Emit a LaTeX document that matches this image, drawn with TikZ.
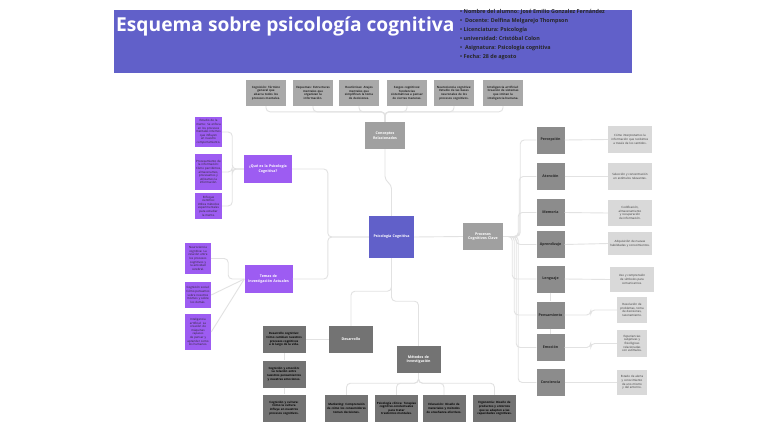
\documentclass[tikz,border=0pt]{standalone}
\usepackage{fontspec}
\setmainfont{Open Sans}
\usetikzlibrary{positioning,calc}
\definecolor{headblue}{HTML}{6160C9}
\definecolor{violeta}{HTML}{9D5CF2}
\definecolor{grisclaro}{HTML}{D9D9D9}
\definecolor{grismedio}{HTML}{A9A9A9}
\definecolor{grisconc}{HTML}{A0A0A0}
\definecolor{grisfuerte}{HTML}{8C8C8C}
\definecolor{grisoscuro}{HTML}{737373}
\definecolor{linea}{HTML}{E2E2E2}
\newcommand{\boxfont}{\fontsize{2.9}{3.6}\selectfont\hyphenpenalty=10000\exhyphenpenalty=10000}
\newcommand{\labfont}{\fontsize{3.6}{4.5}\selectfont\hyphenpenalty=10000\exhyphenpenalty=10000}

\begin{document}
\begin{tikzpicture}[x=1pt, y=-1pt,
  caja/.style={rectangle, inner sep=0.5pt, align=center, font=\boxfont\bfseries},
  topb/.style={caja, fill=grismedio, text=black!85, minimum width=40pt, minimum height=26pt, text width=35pt},
  conc/.style={caja, fill=grisconc, text=white, font=\labfont\bfseries, minimum width=40pt, minimum height=27pt, text width=34pt},
  psib/.style={caja, fill=headblue, text=white, font=\labfont\bfseries, minimum width=45pt, minimum height=42pt, text width=43pt},
  violb/.style={caja, fill=violeta, text=white, font=\labfont\bfseries, minimum width=48pt, minimum height=28pt, text width=42pt},
  viols/.style={caja, fill=violeta, text=black!85, font=\boxfont, minimum width=#1, text width=#1-2pt},
  itemb/.style={caja, fill=grisfuerte, text=black!85, font=\labfont\bfseries, minimum width=27pt, minimum height=27pt, text width=27pt},
  descb/.style={caja, fill=grisclaro, text=black!80, font=\boxfont, minimum width=#1, minimum height=26pt, text width=#1-4pt},
  oscb/.style={caja, fill=grisoscuro, text=black, minimum width=43pt, minimum height=27pt, text width=40pt},
  oscw/.style={caja, fill=grisoscuro, text=white, font=\labfont\bfseries, minimum width=44pt, minimum height=27pt, text width=36pt},
  conn/.style={draw=linea, line width=0.9pt, rounded corners=4pt}
]
\useasboundingbox[fill=white] (0,0) rectangle (768,431);

%% ---- Encabezado ----
\fill[headblue] (114,10) rectangle (632,73);
\node[anchor=west, inner sep=0pt, text=white, font=\fontsize{19.2}{19.2}\bfseries\selectfont] (titulo) at (116,26.5) {Esquema sobre psicología cognitiva};
\node[anchor=north west, inner sep=0pt, align=left, text=black!85, font=\fontsize{5.4}{8.9}\bfseries\selectfont] (datos) at (460,9.5)
  {• Nombre del alumno: José Emilio Gonzalez Fernández\\
   •\ \ Docente: Delfina Melgarejo Thompson\\
   • Licenciatura: Psicología\\
   • universidad: Cristóbal Colon\\
   •\ \ Asignatura: Psicología cognitiva\\
   • Fecha: 28 de agosto};

%% ---- Conceptos relacionados ----
\node[topb] (t1) at (266,93) {Cognición: Término general que abarca todos los procesos mentales.};
\node[topb] (t2) at (313,93) {Esquemas: Estructuras mentales que organizan la información.};
\node[topb] (t3) at (359,93) {Heurísticas: Atajos mentales que simplifican la toma de decisiones.};
\node[topb] (t4) at (407,93) {Sesgos cognitivos: Tendencias sistemáticas a pensar de ciertas maneras.};
\node[topb] (t5) at (454,93) {Neurociencia cognitiva: Estudio de las bases neuronales de los procesos cognitivos.};
\node[topb] (t6) at (503,93) {Inteligencia artificial: Creación de sistemas que imitan la inteligencia humana.};
\node[conc] (concep) at (385,135.5) {Conceptos Relacionados};

%% ---- Centro ----
\node[psib] (psico) at (391.5,237) {Psicología Cognitiva};
\node[conc] (procesos) at (483,236.5) {Procesos Cognitivos Clave};

%% ---- Izquierda ----
\node[violb] (quees) at (268,169) {¿Qué es la Psicología Cognitiva?};
\node[viols=27pt, minimum height=30pt] (q1) at (208.5,132) {Estudio de la mente: Se enfoca en los procesos mentales internos que influyen en nuestro comportamiento.};
\node[viols=27pt, minimum height=36pt] (q2) at (208.5,172) {Procesamiento de la información: Cómo percibimos, almacenamos, procesamos y utilizamos la información.};
\node[viols=27pt, minimum height=26pt] (q3) at (208.5,206) {Enfoque científico: Utiliza métodos experimentales para estudiar la mente.};

\node[violb] (temas) at (268.5,279) {Temas de Investigación Actuales};
\node[viols=26pt, minimum height=31pt] (m1) at (198,258.5) {Neurociencia cognitiva: La relación entre los procesos cognitivos y la actividad cerebral.};
\node[viols=26pt, minimum height=26pt] (m2) at (198,295) {Cognición social: Cómo pensamos sobre nosotros mismos y sobre los demás.};
\node[viols=26pt, minimum height=36pt] (m3) at (198,332) {Inteligencia artificial: La creación de máquinas capaces de pensar y aprender como los humanos.};

%% ---- Derecha ----
\node[itemb] (perc) at (550.5,140) {Percepción};
\node[itemb] (aten) at (550.5,176.5) {Atención};
\node[itemb] (memo) at (550.5,212.5) {Memoria};
\node[itemb] (apre) at (550.5,244.5) {Aprendizaje};
\node[itemb] (leng) at (550.5,279) {Lenguaje};
\node[itemb] (pens) at (550.5,315) {Pensamiento};
\node[itemb] (emoc) at (550.5,347.5) {Emoción};
\node[itemb] (conci) at (550.5,382.5) {Conciencia};

\node[descb=44pt, minimum height=27pt] (percd) at (630,139.5) {Cómo interpretamos la información que recibimos a través de los sentidos.};
\node[descb=44pt, minimum height=27pt] (atend) at (630,176.5) {Selección y concentración en estímulos relevantes.};
\node[descb=44pt] (memod) at (630,213) {Codificación, almacenamiento y recuperación de información.};
\node[descb=44pt, minimum height=23pt] (apred) at (630,243.5) {Adquisición de nuevas habilidades y conocimientos.};
\node[descb=44pt, minimum height=25pt] (lengd) at (632,279.5) {Uso y comprensión de símbolos para comunicarnos.};
\node[descb=30pt] (pensd) at (632,310) {Resolución de problemas, toma de decisiones, razonamiento.};
\node[descb=30pt, minimum height=27pt] (emocd) at (632,343.5) {Experiencias subjetivas y fisiológicas relacionadas con estímulos.};
\node[descb=30pt, minimum height=25pt] (concid) at (632,382.5) {Estado de alerta y conocimiento de uno mismo y del entorno.};

%% ---- Abajo ----
\node[oscw] (desar) at (351,339.5) {Desarrollo};
\node[oscb] (d1) at (284,339.5) {Desarrollo cognitivo: Cómo cambian nuestros procesos cognitivos a lo largo de la vida.};
\node[oscb] (d2) at (284,374) {Cognición y emoción: La relación entre nuestros pensamientos y nuestras emociones.};
\node[oscb] (d3) at (284,408) {Cognición y cultura: Cómo la cultura influye en nuestros procesos cognitivos.};

\node[oscw] (metodos) at (418.5,359.5) {Métodos de Investigación};
\node[oscb] (b1) at (346.5,408.5) {Marketing: Comprensión de cómo los consumidores toman decisiones.};
\node[oscb] (b2) at (396.5,408.5) {Psicología clínica: Terapias cognitivo-conductuales para tratar trastornos mentales.};
\node[oscb] (b3) at (444,408.5) {Educación: Diseño de materiales y métodos de enseñanza efectivos.};
\node[oscb] (b4) at (494.5,408.5) {Ergonomía: Diseño de productos y entornos que se adapten a las capacidades cognitivas.};

%% ---- Conectores ----
\foreach \t in {t1,t2,t3,t4,t5,t6}
  \draw[conn] (concep.north) -- ++(0,-10) -| (\t.south);
\draw[conn] (concep.south) -- ++(0,31) -- ($(psico.north)+(0,-31)$) -- (psico.north);

\draw[conn] (psico.west) -- ++(-41,0) |- (quees.east);
\draw[conn] (psico.west) -- ++(-41,0) |- (temas.east);
\draw[conn] (psico.east) -- (procesos.west);
\draw[conn] (psico.south) -- ++(0,33) -| (desar.north);
\draw[conn] (psico.south) -- ++(0,43) -| (metodos.north);

\foreach \q in {q1,q2,q3}
  \draw[conn] (\q.east) -- ++(10,0) |- (quees.west);
\draw[conn] (m1.east) -- ++(17,0) |- (temas.west);
\draw[conn] (m2.east) -- (temas.west);
\draw[conn] (m3.east) -- (temas.west);

\foreach \i/\dx in {perc/17,aten/16,memo/15,apre/13,leng/9,pens/11,emoc/13,conci/15}
  \draw[conn] (procesos.east) -- ++(\dx,0) |- (\i.west);
\foreach \i/\d in {perc/percd,aten/atend,memo/memod,apre/apred,leng/lengd}
  \draw[conn] (\i.east) -- (\d.west);
\draw[conn] (pens.east) -- ++(26,0) |- (pensd.west);
\draw[conn] (emoc.east) -- ++(26,0) |- (emocd.west);
\draw[conn] (conci.east) -- (concid.west);
\draw[conn] (leng.south) -- (pens.north);
\draw[conn] (pens.south) -- (emoc.north);

\draw[conn] (desar.west) -- (d1.east);
\draw[conn] (d1.south) -- (d2.north);
\draw[conn] (d2.south) -- (d3.north);
\foreach \b in {b1,b2,b3,b4}
  \draw[conn] (metodos.south) -- ++(0,10) -| (\b.north);
\end{tikzpicture}
\end{document}
